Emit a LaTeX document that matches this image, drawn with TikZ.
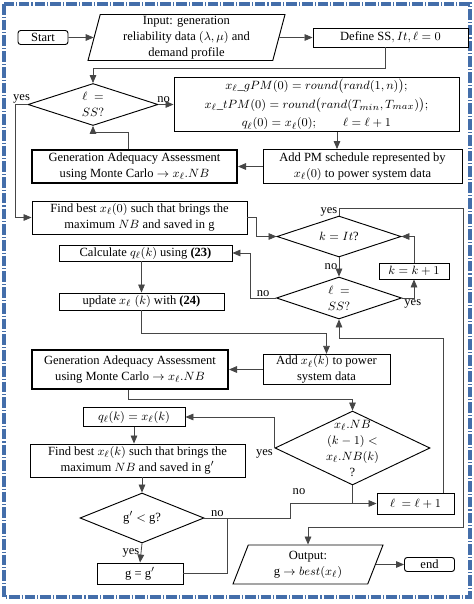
\documentclass[tikz,border=0pt]{standalone}
\usepackage{amsmath}
\usepackage{fontspec}
\setmainfont{Liberation Serif}
\usetikzlibrary{arrows.meta, shapes.geometric, calc}
\definecolor{framblue}{RGB}{68,110,170}
\definecolor{wiregray}{RGB}{70,70,70}
\tikzset{
  sz/.style 2 args={minimum width=#1*0.75pt, minimum height=#2*0.75pt},
  proc/.style={draw, line width=0.7pt, inner sep=1pt, align=center, font=\fontsize{9.4}{12}\selectfont},
  heavy/.style={proc, line width=1.5pt},
  term/.style={proc, rounded corners=2pt},
  io/.style 2 args={proc, trapezium, trapezium left angle=#1, trapezium right angle=#2, trapezium stretches body},
  dec/.style={proc, diamond, aspect=2, inner sep=0pt},
  wire/.style={draw=wiregray, line width=0.6pt},
  arr/.style={wire, -{Triangle[length=6pt, width=5pt]}},
  lbl/.style={font=\fontsize{9.4}{11}\selectfont, inner sep=1pt}
}
\begin{document}
\begin{tikzpicture}[x=0.75pt, y=-0.75pt]
    \useasboundingbox (0,0) rectangle (474,604);
    \draw[framblue, line width=2.5pt, dash pattern=on 8pt off 1.5pt on 0.8pt off 1.5pt] (4,4) rectangle (470,597);

    % top row
    \node[term, sz={50}{14}] (start) at (43,37.5) {Start};
    \node[io={75}{105}, sz={197}{46}] (input) at (186.5,37.5) {Input: generation\\ reliability data $(\lambda,\mu)$ and\\ demand profile};
    \node[proc, sz={155}{19}] (define) at (390.5,37.5) {Define SS$, It, \ell = 0$};

    % initial population
    \node[dec, sz={130}{42}] (chk1) at (93,104.5) {$\ell\ =$\\ $SS?$};
    \node[proc, font=\fontsize{9.4}{14}\selectfont, sz={285}{51}] (init) at (316.5,104.5) {$x_\ell\_gPM(0) = round\big(rand(1,n)\big);$\\ $x_\ell\_tPM(0) = round\big(rand(T_{min},T_{max})\big);$\\ $q_\ell(0) = x_\ell(0);\qquad \ell = \ell + 1$};
    \node[proc, sz={199}{34}] (addpm) at (362.5,166.5) {Add PM schedule represented by\\ $x_\ell(0)$ to power system data};
    \node[heavy, sz={205}{33}] (gaa1) at (134.5,166.5) {Generation Adequacy Assessment\\ using Monte Carlo $\rightarrow x_\ell.NB$};
    \node[proc, sz={215}{33}] (findg) at (139.5,217.5) {Find best $x_\ell(0)$ such that brings the\\ maximum $NB$ and saved in g};

    % iterations
    \node[dec, sz={124}{41}] (chkk) at (339,236.5) {$k = It$?};
    \node[proc, sz={173}{16}] (calcq) at (145.5,253) {Calculate $q_\ell(k)$ using \textbf{(23)}};
    \node[proc, sz={70}{16}] (incK) at (414,271) {$k = k + 1$};
    \node[dec, sz={125}{42}] (chkl) at (339,298) {$\ell\ =$\\ $SS?$};
    \node[proc, sz={165}{17}] (updx) at (141.5,301.5) {update $x_\ell\ (k)$ with \textbf{(24)}};
    \node[heavy, sz={196}{39}] (gaa2) at (130,369.5) {Generation Adequacy Assessment\\ using Monte Carlo $\rightarrow x_\ell.NB$};
    \node[proc, sz={127}{29}] (addx) at (326.5,369.5) {Add $x_\ell(k)$ to power\\ system data};
    \node[proc, sz={102}{19}] (setq) at (134,417) {$q_\ell(k) = x_\ell(k)$};
    \node[dec, inner ysep=-7pt, sz={155}{74}] (chknb) at (352.5,448) {$x_\ell.NB$\\ $(k-1) <$\\ $x_\ell.NB(k)$\\ ?};
    \node[proc, sz={215}{33}] (findgp) at (137.5,460.5) {Find best $x_\ell(k)$ such that brings the\\[0.5pt] maximum $NB$ and saved in g$'$};
    \node[dec, sz={124}{50}] (chkg) at (142,518) {g$'$ $<$ g?};
    \node[proc, sz={77}{21}] (incL) at (415.5,503.5) {$\ell\ = \ell + 1$};
    \node[proc, sz={86}{21}] (gset) at (140,573.5) {g = g$'$};

    % result
    \node[io={63}{117}, sz={150}{39}] (output) at (308,564.5) {Output:\\ g $\rightarrow best(x_\ell)$};
    \node[term, sz={50}{14}] (stop) at (429.5,564.5) {end};

    \coordinate (rbend) at (463,527);
    \coordinate (jnb) at (chknb.south |- incL.west);

    \draw[arr] (start) -- (input);
    \draw[arr] (input) -- (define);
    \draw[arr] ($(define.south)+(-5,0)$) -- ++(0,21) -| (chk1.north);
    \draw[arr] (chk1.east) -- node[lbl, above, pos=0.35] (n1) {no} (init.west);
    \draw[arr] (chk1.west) -- node[lbl, above] (y1) {yes} ++(-12,0) |- (findg.west);
    \draw[arr] ($(init.south)+(20.5,0)$) -- ($(addpm.north)+(-25.5,0)$);
    \draw[arr] (addpm) -- (gaa1);
    \draw[arr] ($(gaa1.north)+(-6,0)$) -- ++(0,-17) -| (chk1.south);

    \draw[arr] (findg.east) -- ++(9,0) |- (chkk.west);
    \draw[arr] (chkk.north) -- node[lbl, left] (y2) {yes} ++(0,-7) -| (rbend) -| (output.north);
    \draw[arr] (chkk.south) -- node[lbl, left] (n2) {no} (chkl.north);
    \draw[arr] (chkl.west) -- node[lbl, above] (n3) {no} ++(-26,0) |- (calcq.east);
    \draw[arr] (chkl.east) -| node[lbl, below, pos=0.45] (y3) {yes} (incK.south);
    \draw[arr] (incK.north) |- (chkk.east);
    \draw[arr] (calcq.south -| updx.north) -- (updx.north);
    \draw[arr] (updx.south) -- ++(0,23) -| (addx.north);
    \draw[arr] (addx) -- (gaa2);
    \draw[arr] ($(gaa2.south)+(-2,0)$) -- ++(0,9) -| (chknb.north);

    \draw[arr] (chknb.west) node[lbl, below left] (y4) {yes} |- (setq.east);
    \draw[arr] (setq.south) -- (setq.south |- findgp.north);
    \draw[arr] (chkg.north |- findgp.south) -- (chkg.north);
    \draw[arr] (chkg.south) -- node[lbl, left] (y5) {yes} (gset.north);
    \draw[wire] (chkg.east) -- node[lbl, above, pos=0.15] (n5) {no} ++(86,0) |- (jnb);
    \draw[wire] (gset.east) -| ($(chkg.east)+(23,0)$);
    \node[lbl] (n4) at (299,492) {no};
    \draw[arr] (chknb.south) |- (incL.west);
    \draw[arr] ($(incL.north)+(27.5,0)$) |- ($(chkl.south)+(0,19)$) -- (chkl.south);
    \draw[arr] (output) -- (stop);
\end{tikzpicture}
\end{document}
